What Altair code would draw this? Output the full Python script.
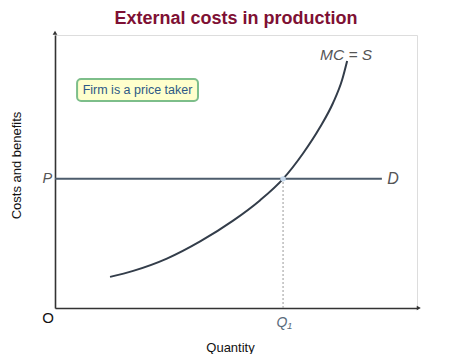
import altair as alt
import pandas as pd

# MC = S curve (Quantity, Cost)
mc_q = [15.2, 21.6, 30.9, 40.1, 49.2, 56.6, 63.0, 68.5, 73.2, 76.8, 79.3, 80.7]
mc_c = [11.4, 13.6, 18.1, 24.4, 32.0, 39.4, 47.3, 56.6, 66.2, 75.1, 83.5, 90.5]

price_p = 47.3
demand_end_q = 90.3
q1 = 63.0

W, H = 362, 273
xs = alt.Scale(domain=[0, 100], nice=False, zero=False)
ys = alt.Scale(domain=[0, 100], nice=False, zero=False)

curve_df = pd.DataFrame({"q": mc_q, "c": mc_c, "o": list(range(len(mc_q)))})
demand_df = pd.DataFrame({"q": [0, demand_end_q], "c": [price_p, price_p]})
drop_df = pd.DataFrame({"q": [q1, q1], "c": [0, price_p]})
pt_df = pd.DataFrame({"q": [q1], "c": [price_p]})

axes_base = alt.Chart(pd.DataFrame({"q": [0, 100], "c": [0, 100]}))

frame = axes_base.mark_point(opacity=0).encode(
    x=alt.X("q:Q", scale=xs, axis=alt.Axis(
        title="Quantity", grid=False, ticks=False, labels=False,
        domainColor="#333333", domainWidth=1.6, titleFont="Liberation Sans",
        titleFontSize=13, titleFontWeight="normal", titleColor="#111111",
        titlePadding=33, titleX=175)),
    y=alt.Y("c:Q", scale=ys, axis=alt.Axis(
        title="Costs and benefits", grid=False, ticks=False, labels=False,
        domainColor="#333333", domainWidth=1.6, titleFont="Liberation Sans",
        titleFontSize=13, titleFontWeight="normal", titleColor="#111111",
        titlePadding=32, titleY=130)),
)

arrows_df = pd.DataFrame({"q": [0, 100.5], "c": [100.8, 0], "shape": ["triangle-up", "triangle-right"]})
arrows = alt.Chart(arrows_df).mark_point(filled=True, size=22, color="#333333", opacity=1).encode(
    x=alt.X("q:Q", scale=xs), y=alt.Y("c:Q", scale=ys),
    shape=alt.Shape("shape:N", scale=None, legend=None))

curve = alt.Chart(curve_df).mark_line(color="#333d4a", strokeWidth=2, interpolate="monotone").encode(
    x=alt.X("q:Q", scale=xs), y=alt.Y("c:Q", scale=ys), order="o:Q")

demand = alt.Chart(demand_df).mark_line(color="#4d5c6c", strokeWidth=2).encode(
    x=alt.X("q:Q", scale=xs), y=alt.Y("c:Q", scale=ys))

drop = alt.Chart(drop_df).mark_line(color="#9a9a9a", strokeWidth=1, strokeDash=[2, 2]).encode(
    x=alt.X("q:Q", scale=xs), y=alt.Y("c:Q", scale=ys))

point = alt.Chart(pt_df).mark_point(filled=True, size=30, color="#c5d8ec", opacity=1).encode(
    x=alt.X("q:Q", scale=xs), y=alt.Y("c:Q", scale=ys))

lab_df = pd.DataFrame({
    "q": [80.4, -0.8, 91.8, q1 + 0.3, -1.9],
    "c": [92.6, price_p, price_p, -5.4, -3.6],
    "t": ["MC = S", "P", "D", "Q\u2081", "O"],
    "al": ["center", "right", "left", "center", "center"],
    "sz": [15.5, 14.5, 16, 14, 15],
    "st": ["italic", "italic", "italic", "italic", "normal"],
    "col": ["#555555", "#555555", "#555555", "#5a6b7c", "#111111"],
})
labels = alt.layer(*[
    alt.Chart(lab_df.iloc[[i]]).mark_text(
        align=r.al, baseline="middle", fontSize=r.sz, fontStyle=r.st,
        color=r.col, font="Liberation Sans").encode(
        x=alt.X("q:Q", scale=xs), y=alt.Y("c:Q", scale=ys), text="t:N")
    for i, r in enumerate(lab_df.itertuples())
])

box_df = pd.DataFrame({"q": [6.1], "q2": [39.5], "c": [75.8], "c2": [83.9],
                       "qm": [22.8], "cm": [79.85], "t": ["Firm is a price taker"]})
box = alt.Chart(box_df).mark_rect(fill="#ffffcc", stroke="#7dbe8a", strokeWidth=2, cornerRadius=4).encode(
    x=alt.X("q:Q", scale=xs), x2="q2", y=alt.Y("c:Q", scale=ys), y2="c2")
box_text = alt.Chart(box_df).mark_text(fontSize=12.5, color="#2e5a86", font="Liberation Sans").encode(
    x=alt.X("qm:Q", scale=xs), y=alt.Y("cm:Q", scale=ys), text="t:N")

chart = alt.layer(frame, arrows, demand, drop, curve, point, labels, box, box_text).properties(
    width=W, height=H,
    title=alt.TitleParams("External costs in production", fontSize=18, fontWeight="bold",
                          color="#7e1034", font="Liberation Sans", anchor="middle", offset=3),
    autosize=alt.AutoSizeParams(type="none"),
    padding={"left": 47, "top": 27, "right": 49, "bottom": 46},
).configure_view(stroke=None).configure(background="white")

chart.save("out.html", embed_options={"renderer": "svg", "actions": False})
